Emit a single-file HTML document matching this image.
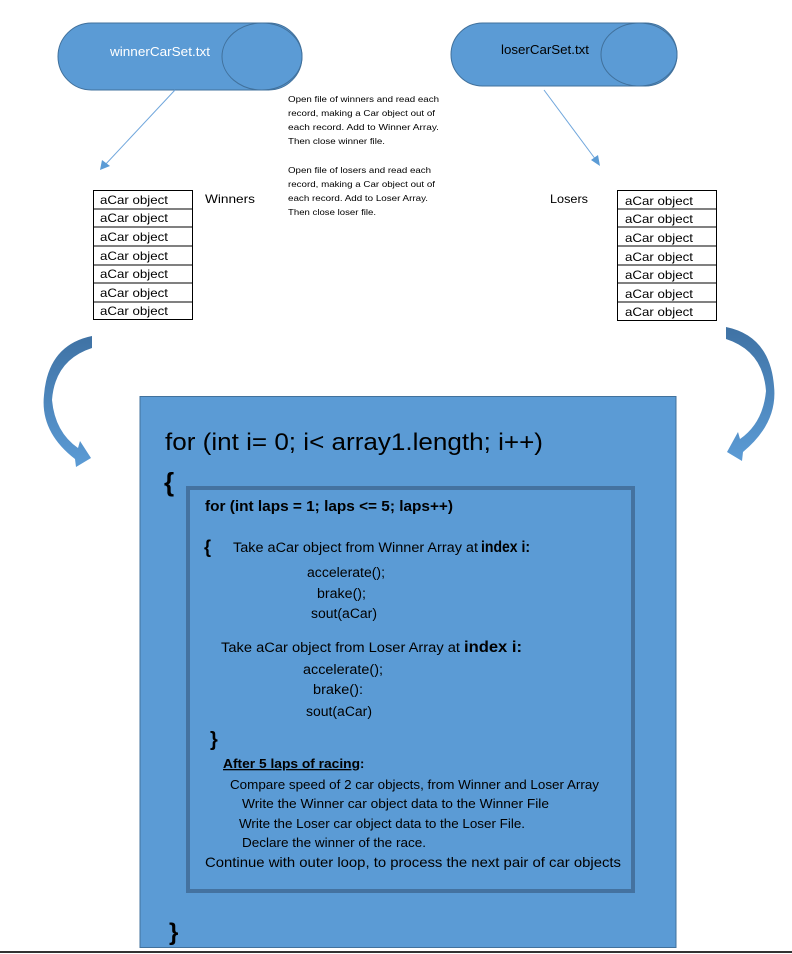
<!DOCTYPE html>
<html><head><meta charset="utf-8"><style>
html,body{margin:0;padding:0;background:#fff;}
svg{display:block;}
text{font-family:"Liberation Sans",sans-serif;}
</style></head><body>
<svg width="792" height="954" viewBox="0 0 792 954" xmlns="http://www.w3.org/2000/svg">
<defs>
<linearGradient id="ga" x1="0" y1="0" x2="0" y2="1"><stop offset="0" stop-color="#3f72a4"/><stop offset="1" stop-color="#5b9bd5"/></linearGradient>
</defs>
<rect x="58" y="23" width="244" height="67" rx="33.5" fill="#5b9bd5" stroke="#41719c" stroke-width="1"/>
<ellipse cx="262" cy="56.5" rx="40" ry="33.5" fill="#5b9bd5" stroke="#41719c" stroke-width="1"/>
<text x="110" y="56" font-size="12.5" fill="#fff" textLength="100" lengthAdjust="spacingAndGlyphs">winnerCarSet.txt</text>
<rect x="451" y="23" width="226" height="63" rx="31.5" fill="#5b9bd5" stroke="#41719c" stroke-width="1"/>
<ellipse cx="639" cy="54.5" rx="38" ry="31.5" fill="#5b9bd5" stroke="#41719c" stroke-width="1"/>
<text x="501" y="54" font-size="12.5" fill="#000" textLength="88" lengthAdjust="spacingAndGlyphs">loserCarSet.txt</text>
<line x1="175" y1="90" x2="104" y2="166" stroke="#6fa6dc" stroke-width="1"/>
<polygon points="100,170 102,160 110,166" fill="#5b9bd5"/>
<line x1="544" y1="90" x2="596" y2="160" stroke="#6fa6dc" stroke-width="1"/>
<polygon points="600,166 591,160 598,155" fill="#5b9bd5"/>
<g font-size="8.6" fill="#000">
<text x="288" y="102" textLength="151" lengthAdjust="spacingAndGlyphs">Open file of winners and read each</text>
<text x="288" y="116" textLength="147" lengthAdjust="spacingAndGlyphs">record, making a Car object out of</text>
<text x="288" y="130" textLength="151" lengthAdjust="spacingAndGlyphs">each record.  Add to Winner Array.</text>
<text x="288" y="144" textLength="97" lengthAdjust="spacingAndGlyphs">Then close winner file.</text>
<text x="288" y="173" textLength="143" lengthAdjust="spacingAndGlyphs">Open file of losers and read each</text>
<text x="288" y="187" textLength="147" lengthAdjust="spacingAndGlyphs">record, making a Car object out of</text>
<text x="288" y="201" textLength="140" lengthAdjust="spacingAndGlyphs">each record. Add to Loser Array.</text>
<text x="288" y="215" textLength="88" lengthAdjust="spacingAndGlyphs">Then close loser file.</text>
</g>
<g stroke="#000" stroke-width="1" fill="#fff">
<rect x="93.5" y="190.5" width="99" height="129"/>
<line x1="93" y1="209" x2="193" y2="209"/><line x1="93" y1="227" x2="193" y2="227"/>
<line x1="93" y1="246" x2="193" y2="246"/><line x1="93" y1="265" x2="193" y2="265"/>
<line x1="93" y1="283" x2="193" y2="283"/><line x1="93" y1="302" x2="193" y2="302"/>
<rect x="617.5" y="190.5" width="99" height="130"/>
<line x1="617" y1="209" x2="717" y2="209"/><line x1="617" y1="227" x2="717" y2="227"/>
<line x1="617" y1="246" x2="717" y2="246"/><line x1="617" y1="265" x2="717" y2="265"/>
<line x1="617" y1="283" x2="717" y2="283"/><line x1="617" y1="302" x2="717" y2="302"/>
</g>
<g font-size="12" fill="#000">
<text x="100" y="204" textLength="68" lengthAdjust="spacingAndGlyphs">aCar object</text>
<text x="100" y="222" textLength="68" lengthAdjust="spacingAndGlyphs">aCar object</text>
<text x="100" y="241" textLength="68" lengthAdjust="spacingAndGlyphs">aCar object</text>
<text x="100" y="260" textLength="68" lengthAdjust="spacingAndGlyphs">aCar object</text>
<text x="100" y="278" textLength="68" lengthAdjust="spacingAndGlyphs">aCar object</text>
<text x="100" y="297" textLength="68" lengthAdjust="spacingAndGlyphs">aCar object</text>
<text x="100" y="315" textLength="68" lengthAdjust="spacingAndGlyphs">aCar object</text>
<text x="625" y="205" textLength="68" lengthAdjust="spacingAndGlyphs">aCar object</text>
<text x="625" y="223" textLength="68" lengthAdjust="spacingAndGlyphs">aCar object</text>
<text x="625" y="242" textLength="68" lengthAdjust="spacingAndGlyphs">aCar object</text>
<text x="625" y="261" textLength="68" lengthAdjust="spacingAndGlyphs">aCar object</text>
<text x="625" y="279" textLength="68" lengthAdjust="spacingAndGlyphs">aCar object</text>
<text x="625" y="298" textLength="68" lengthAdjust="spacingAndGlyphs">aCar object</text>
<text x="625" y="316" textLength="68" lengthAdjust="spacingAndGlyphs">aCar object</text>
<text x="205" y="203" textLength="50" lengthAdjust="spacingAndGlyphs">Winners</text>
<text x="550" y="203" textLength="38" lengthAdjust="spacingAndGlyphs">Losers</text>
</g>
<path d="M92,336 L92,348 Q55,360 52,400 Q55,432 78,448 L80,441 L91,458 L76,467 L75,459 Q40,432 44,395 Q48,345 92,336 Z" fill="url(#ga)"/>
<path d="M726,327 L726,339 Q763,351 766,391 Q763,423 740,439 L738,432 L727,452 L742,461 L743,452 Q778,423 774,386 Q770,336 726,327 Z" fill="url(#ga)"/>
<rect x="140" y="396.5" width="536" height="551" fill="#5b9bd5" stroke="#41719c" stroke-width="1"/>
<line x1="0" y1="952" x2="792" y2="952" stroke="#333" stroke-width="2"/>
<rect x="188" y="488" width="445" height="403" fill="none" stroke="#4472a0" stroke-width="4"/>
<g fill="#000">
<text x="165" y="450" font-size="24" textLength="378" lengthAdjust="spacingAndGlyphs">for (int i= 0; i&lt; array1.length; i++)</text>
<text x="164" y="491" font-size="26" font-weight="bold">{</text>
<text x="205" y="511" font-size="15" font-weight="bold" textLength="248" lengthAdjust="spacingAndGlyphs">for (int laps = 1; laps &lt;= 5; laps++)</text>
<text x="204" y="553" font-size="18" font-weight="bold">{</text>
<text x="233" y="552" font-size="13.5" textLength="245" lengthAdjust="spacingAndGlyphs">Take aCar object from Winner Array at</text>
<text x="481" y="552" font-size="16" font-weight="bold" textLength="49" lengthAdjust="spacingAndGlyphs">index i:</text>
<text x="307" y="577" font-size="13.5" textLength="78" lengthAdjust="spacingAndGlyphs">accelerate();</text>
<text x="317" y="598" font-size="13.5" textLength="49" lengthAdjust="spacingAndGlyphs">brake();</text>
<text x="311" y="618" font-size="13.5" textLength="66" lengthAdjust="spacingAndGlyphs">sout(aCar)</text>
<text x="221" y="652" font-size="13.5" textLength="239" lengthAdjust="spacingAndGlyphs">Take aCar object from Loser Array at</text>
<text x="464" y="652" font-size="16" font-weight="bold" textLength="58" lengthAdjust="spacingAndGlyphs">index i:</text>
<text x="303" y="674" font-size="13.5" textLength="80" lengthAdjust="spacingAndGlyphs">accelerate();</text>
<text x="313" y="694" font-size="13.5" textLength="50" lengthAdjust="spacingAndGlyphs">brake():</text>
<text x="306" y="716" font-size="13.5" textLength="66" lengthAdjust="spacingAndGlyphs">sout(aCar)</text>
<text x="210" y="746" font-size="20" font-weight="bold">}</text>
<text x="223" y="768" font-size="13" font-weight="bold" text-decoration="underline" textLength="137" lengthAdjust="spacingAndGlyphs">After 5 laps of racing</text>
<text x="360" y="768" font-size="13" font-weight="bold">:</text>
<text x="230" y="789" font-size="13" textLength="369" lengthAdjust="spacingAndGlyphs">Compare speed of 2 car objects, from Winner and Loser Array</text>
<text x="242" y="808" font-size="13" textLength="307" lengthAdjust="spacingAndGlyphs">Write the Winner car object data to the Winner File</text>
<text x="239" y="828" font-size="13" textLength="286" lengthAdjust="spacingAndGlyphs">Write the Loser car object data to the Loser File.</text>
<text x="242" y="847" font-size="13" textLength="184" lengthAdjust="spacingAndGlyphs">Declare the winner of the race.</text>
<text x="205" y="867" font-size="14" textLength="416" lengthAdjust="spacingAndGlyphs">Continue with outer loop, to process the next pair of car objects</text>
<text x="169" y="940" font-size="24" font-weight="bold">}</text>
</g>
</svg>
</body></html>
